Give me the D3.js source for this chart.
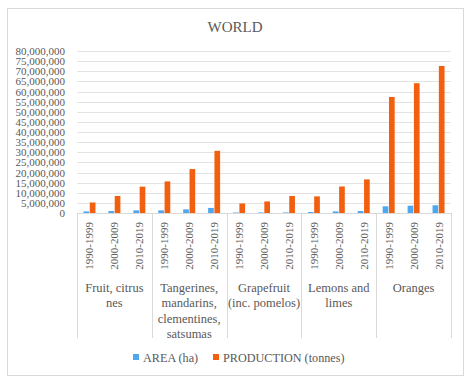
<!DOCTYPE html>
<html>
<head>
<meta charset="utf-8">
<script src="https://cdn.jsdelivr.net/npm/d3@7"></script>
<style>
  body { margin: 0; background: #fff; }
  svg text { font-family: "Liberation Serif", "DejaVu Serif", serif; fill: #595959; }
</style>
</head>
<body>
<svg id="chart" width="474" height="384"></svg>
<script>
// categories and periods
var groups = ["Fruit, citrus nes", "Tangerines, mandarins, clementines, satsumas",
  "Grapefruit (inc. pomelos)", "Lemons and limes", "Oranges"];
var groupLines = [["Fruit, citrus", "nes"], ["Tangerines,", "mandarins,", "clementines,", "satsumas"],
  ["Grapefruit", "(inc. pomelos)"], ["Lemons and", "limes"], ["Oranges"]];
var periods = ["1990-1999", "2000-2009", "2010-2019"];

// values, per group x period
var area = [
  [800000, 1000000, 1300000],
  [1300000, 1800000, 2500000],
  [250000, 270000, 260000],
  [500000, 800000, 1000000],
  [3300000, 3600000, 3800000]
];
var production = [
  [5200000, 8400000, 13000000],
  [15600000, 21700000, 30700000],
  [4700000, 5700000, 8400000],
  [8200000, 13100000, 16600000],
  [57300000, 64100000, 72600000]
];
var yTicks = d3.range(0, 80000001, 5000000);

var blue = "#4EA8EE", orange = "#F2600F";
var svg = d3.select("#chart");

// outer frame
svg.append("rect").attr("x", 7.5).attr("y", 8.5).attr("width", 456).attr("height", 367)
  .attr("fill", "#fff").attr("stroke", "#d9d9d9");

svg.append("text").attr("x", 235).attr("y", 32).attr("text-anchor", "middle")
  .attr("font-size", 15).text("WORLD");

var plotLeft = 77, plotRight = 451, plotTop = 51, plotBottom = 213;

var y = d3.scaleLinear().domain([0, 80000000]).range([plotBottom, plotTop]);

// flat list of bars
var rows = [];
groups.forEach(function(g, gi) {
  periods.forEach(function(p, pi) {
    rows.push({ key: gi + "|" + p, g: gi, p: p, area: area[gi][pi], prod: production[gi][pi] });
  });
});

var x = d3.scaleBand().domain(rows.map(function(d){ return d.key })).range([plotLeft, plotRight]);
var xg = d3.scaleBand().domain(d3.range(groups.length)).range([plotLeft, plotRight]);
var inner = d3.scaleBand().domain(["area", "prod"]).range([0, 12]).paddingInner(0.1);

// gridlines
svg.append("g").selectAll("line").data(yTicks.slice(1)).enter().append("line")
  .attr("x1", plotLeft).attr("x2", plotRight)
  .attr("y1", function(d){ return Math.round(y(d)) + 0.5 })
  .attr("y2", function(d){ return Math.round(y(d)) + 0.5 })
  .attr("stroke", "#e3e3e3");

// y axis labels
var yAxis = d3.axisLeft(y).tickValues(yTicks).tickSize(0).tickPadding(12)
  .tickFormat(d3.format(","));
var ya = svg.append("g").attr("transform", "translate(" + plotLeft + ",0)").call(yAxis);
ya.attr("font-family", null).attr("font-size", null);
ya.select(".domain").remove();
ya.selectAll("text").attr("font-size", 11).attr("fill", "#595959");

// bars
var bars = svg.append("g");
bars.selectAll(".a").data(rows).enter().append("rect")
  .attr("x", function(d){ return x(d.key) + x.bandwidth() / 2 - 6 + inner("area") })
  .attr("width", inner.bandwidth())
  .attr("y", function(d){ return y(d.area) })
  .attr("height", function(d){ return plotBottom - y(d.area) })
  .attr("fill", blue);
bars.selectAll(".p").data(rows).enter().append("rect")
  .attr("x", function(d){ return x(d.key) + x.bandwidth() / 2 - 6 + inner("prod") })
  .attr("width", inner.bandwidth())
  .attr("y", function(d){ return y(d.prod) })
  .attr("height", function(d){ return plotBottom - y(d.prod) })
  .attr("fill", orange);

// category axis line and group separators
svg.append("line").attr("x1", plotLeft).attr("x2", plotRight)
  .attr("y1", plotBottom + 0.5).attr("y2", plotBottom + 0.5)
  .attr("stroke", "#d9d9d9");
svg.append("g").selectAll("line").data(d3.range(groups.length + 1)).enter().append("line")
  .attr("x1", function(d){ return Math.round(plotLeft + d * xg.bandwidth()) + 0.5 })
  .attr("x2", function(d){ return Math.round(plotLeft + d * xg.bandwidth()) + 0.5 })
  .attr("y1", plotBottom).attr("y2", 338)
  .attr("stroke", "#d9d9d9");

// period labels, rotated
svg.append("g").selectAll("text").data(rows).enter().append("text")
  .attr("transform", function(d){ return "translate(" + (x(d.key) + x.bandwidth() / 2 + 4) + ",222)rotate(-90)" })
  .attr("text-anchor", "end")
  .attr("font-size", 11)
  .text(function(d){ return d.p });

// group labels
var gl = svg.append("g").selectAll("text").data(groupLines).enter().append("text")
  .attr("x", function(d, i){ return xg(i) + xg.bandwidth() / 2 })
  .attr("y", 292)
  .attr("text-anchor", "middle")
  .attr("font-size", 12.5);
gl.selectAll("tspan").data(function(d){ return d }).enter().append("tspan")
  .attr("x", function(){ return this.parentNode.getAttribute("x") })
  .attr("dy", function(d, i){ return i ? 15.3 : 0 })
  .text(function(d){ return d });

// legend
var legend = [{ name: "AREA (ha)", color: blue, x: 133 }, { name: "PRODUCTION (tonnes)", color: orange, x: 213 }];
var lg = svg.append("g").selectAll("g").data(legend).enter().append("g")
  .attr("transform", function(d){ return "translate(" + d.x + ",354)" });
lg.append("rect").attr("width", 6).attr("height", 6).attr("fill", function(d){ return d.color });
lg.append("text").attr("x", 10).attr("y", 7.5).attr("font-size", 12.2).text(function(d){ return d.name });
</script>
</body>
</html>
